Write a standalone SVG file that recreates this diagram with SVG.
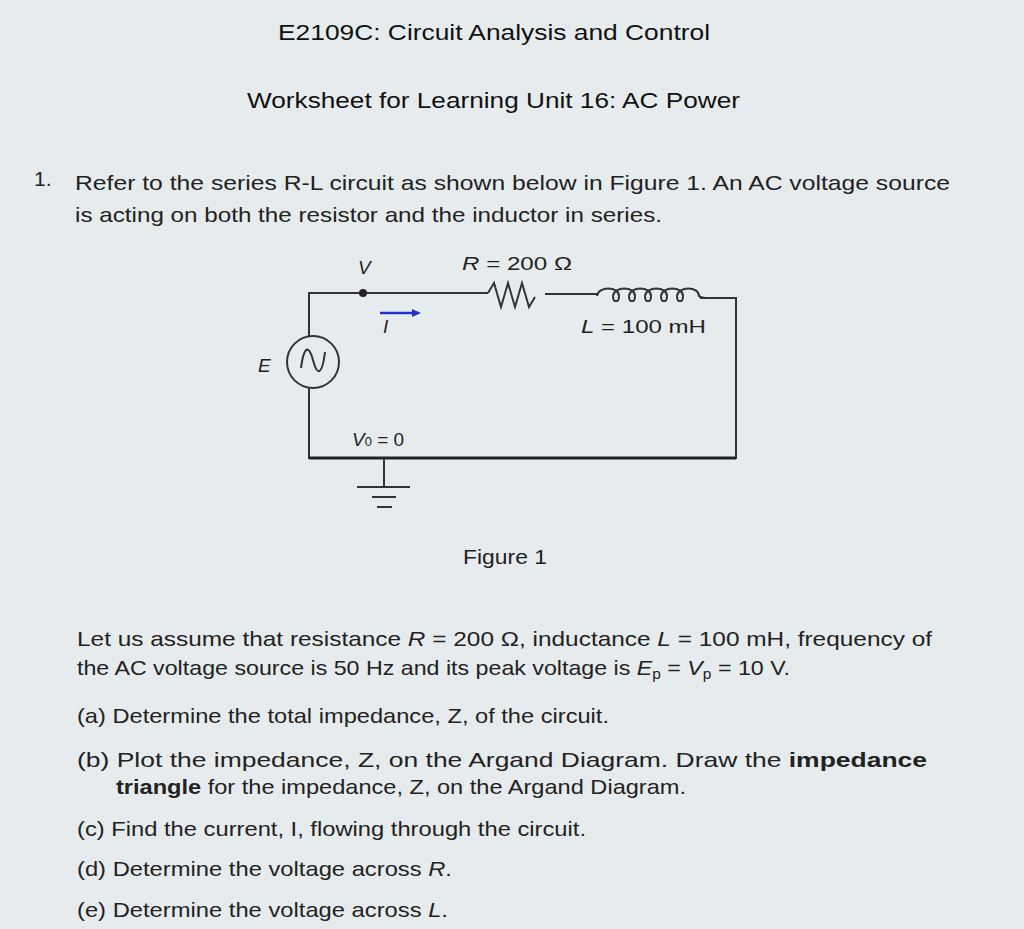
<svg xmlns="http://www.w3.org/2000/svg" width="1024" height="929" viewBox="0 0 1024 929">
<style>
.t{font-family:"Liberation Sans",Arial,sans-serif;font-size:21px;fill:#222}
.h{font-family:"Liberation Sans",Arial,sans-serif;font-size:22px;fill:#111}
.c{font-family:"Liberation Sans",Arial,sans-serif;font-size:19px;fill:#222}
.w{fill:none;stroke:#333;stroke-width:2}
</style>
<rect width="1024" height="929" fill="#e6ecee"/>
<g id="title">
<text class="h" x="278" y="40" textLength="432" lengthAdjust="spacingAndGlyphs">E2109C: Circuit Analysis and Control</text>
<text class="h" x="247" y="108" textLength="493" lengthAdjust="spacingAndGlyphs">Worksheet for Learning Unit 16: AC Power</text>
</g>
<g id="intro">
<text class="t" x="34" y="186">1.</text>
<text class="t" x="75" y="190" textLength="875" lengthAdjust="spacingAndGlyphs">Refer to the series R-L circuit as shown below in Figure 1. An AC voltage source</text>
<text class="t" x="75" y="222" textLength="587" lengthAdjust="spacingAndGlyphs">is acting on both the resistor and the inductor in series.</text>
</g>
<g id="connectors">
<path class="w" d="M309 336 V293 H488 M545 294 H597 M700 298 H736 V458 H309 V388"/>
<path class="w" d="M488 293 l6 -10 l7 24 l7 -24 l7 24 l7 -24 l7 24 l6 -10"/>
<path class="w" d="M597 296 c1 -10 22 -10 22 0 c0 7 -6 7 -6 0 c1 -10 22 -10 22 0 c0 7 -6 7 -6 0 c1 -10 22 -10 22 0 c0 7 -6 7 -6 0 c1 -10 22 -10 22 0 c0 7 -6 7 -6 0 c1 -10 22 -10 22 0 c0 7 -6 7 -6 0 c1 -10 22 -10 22 0 c2 2 5 2 7 2"/>
<line x1="309" y1="458" x2="736" y2="458" stroke="#222" stroke-width="3"/>
<path class="w" d="M384 458 V487 M357 487 H410 M372 497 H396 M377 507 H392" stroke-width="2.5"/>
<line x1="380" y1="313" x2="412" y2="313" stroke="#2233cc" stroke-width="2.5"/>
<polygon points="412,309 421,313 412,317" fill="#2233cc"/>
</g>
<g id="node-V"><circle cx="363" cy="293" r="4" fill="#222"/><text class="c" x="358" y="274" font-style="italic">V</text></g>
<g id="source"><circle cx="313" cy="362" r="26" fill="none" stroke="#333" stroke-width="2"/>
<path d="M301 368 C304 345 309 345 313 360 C317 376 322 376 325 352" fill="none" stroke="#333" stroke-width="2"/>
<text class="c" x="258" y="372" font-style="italic">E</text></g>
<g id="labels">
<text class="c" x="462" y="270" textLength="110" lengthAdjust="spacingAndGlyphs"><tspan font-style="italic">R</tspan> = 200 Ω</text>
<text class="c" x="581" y="333" textLength="125" lengthAdjust="spacingAndGlyphs"><tspan font-style="italic">L</tspan> = 100 mH</text>
<text class="c" x="383" y="333" font-style="italic">I</text>
<text class="c" x="352" y="446"><tspan font-style="italic">V</tspan><tspan font-size="13">0</tspan> = 0</text>
<text class="t" x="463" y="564" textLength="84" lengthAdjust="spacingAndGlyphs">Figure 1</text>
</g>
<g id="body">
<text class="t" x="77" y="646" textLength="855" lengthAdjust="spacingAndGlyphs">Let us assume that resistance <tspan font-style="italic">R</tspan> = 200 Ω, inductance <tspan font-style="italic">L</tspan> = 100 mH, frequency of</text>
<text class="t" x="77" y="675" textLength="713" lengthAdjust="spacingAndGlyphs">the AC voltage source is 50 Hz and its peak voltage is <tspan font-style="italic">E</tspan><tspan font-size="14" dy="4">p</tspan><tspan dy="-4"> = </tspan><tspan font-style="italic">V</tspan><tspan font-size="14" dy="4">p</tspan><tspan dy="-4"> = 10 V.</tspan></text>
<text class="t" x="77" y="723" textLength="532" lengthAdjust="spacingAndGlyphs">(a) Determine the total impedance, Z, of the circuit.</text>
<text class="t" x="77" y="767" textLength="850" lengthAdjust="spacingAndGlyphs">(b) Plot the impedance, Z, on the Argand Diagram. Draw the <tspan font-weight="bold">impedance</tspan></text>
<text class="t" x="116" y="794" textLength="570" lengthAdjust="spacingAndGlyphs"><tspan font-weight="bold">triangle</tspan> for the impedance, Z, on the Argand Diagram.</text>
<text class="t" x="77" y="836" textLength="509" lengthAdjust="spacingAndGlyphs">(c) Find the current, I, flowing through the circuit.</text>
<text class="t" x="77" y="876" textLength="375" lengthAdjust="spacingAndGlyphs">(d) Determine the voltage across <tspan font-style="italic">R</tspan>.</text>
<text class="t" x="77" y="917" textLength="371" lengthAdjust="spacingAndGlyphs">(e) Determine the voltage across <tspan font-style="italic">L</tspan>.</text>
</g>
</svg>
